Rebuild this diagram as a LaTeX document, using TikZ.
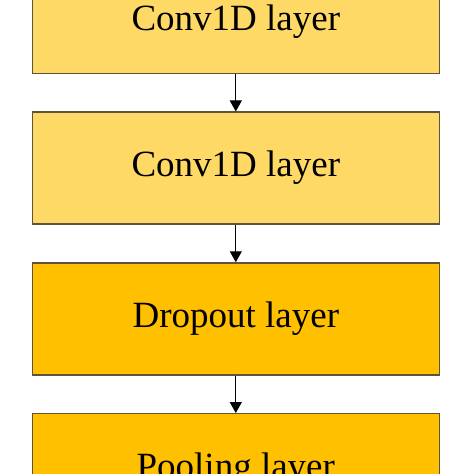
\documentclass[tikz,border=0pt]{standalone}
\usepackage{fontspec}
\setmainfont{Liberation Serif}
\usetikzlibrary{positioning,arrows.meta}
\definecolor{lightgold}{HTML}{FFD966}
\definecolor{gold}{HTML}{FFC000}
\definecolor{boxline}{HTML}{5E5240}
\begin{document}
\begin{tikzpicture}[x=1pt,y=1pt]
        \useasboundingbox (0,0) rectangle (474,-474);
        \begin{scope}
            \tikzstyle{every node}=[rectangle, draw=boxline, line width=1.3pt, minimum width=407pt, minimum height=112pt, inner sep=0pt, text=black, font=\fontsize{37}{44}\selectfont]
            \tikzstyle{light}=[fill=lightgold]
            \tikzstyle{dark}=[fill=gold]
            \node[light, text height=34pt] (conv1) at (235.8,-17.3) {Conv1D layer};
            \node[light, below=37.5pt of conv1] (conv2) {Conv1D layer};
            \node[dark, below=37.5pt of conv2] (drop) {Dropout layer};
            \node[dark, below=37.5pt of drop] (pool) {Pooling layer};
        \end{scope}
        \begin{scope}
            \tikzstyle{every edge}=[draw, line width=1pt, -{Triangle[length=11pt,width=12pt]}]
            \path
            (conv1) edge (conv2)
            (conv2) edge (drop)
            (drop) edge (pool)
            ;
        \end{scope}
    \end{tikzpicture}
\end{document}
